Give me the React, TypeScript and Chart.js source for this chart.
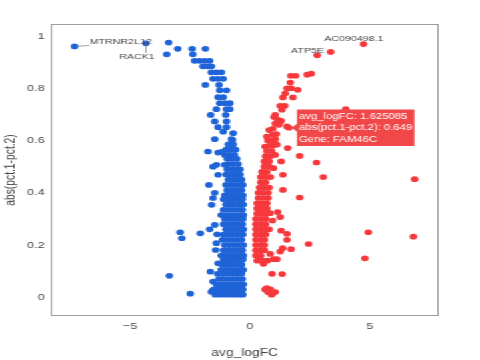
import React, { useEffect, useRef } from 'react';
import { Chart, registerables } from 'chart.js';

Chart.register(...registerables);

const FONT = "'Liberation Sans', Arial, Helvetica, sans-serif";
const BLUE = '#1E63D7';
const RED = '#F6383C';
const TIP_BG = '#F24748';
const TEXT = '#444444';

// axis ranges and ticks
const X_MIN = -8.306;
const X_MAX = 7.861;
const Y_MIN = -0.0716;
const Y_MAX = 1.046;
const xTicks = [-5, 0, 5];
const yTicks = [0, 0.2, 0.4, 0.6, 0.8, 1];
const xTitle = 'avg_logFC';
const yTitle = 'abs(pct.1-pct.2)';

// labelled genes: [avg_logFC, abs(pct.1-pct.2)], label anchor [x, y]
const labelGenes = ['MTRNR2L12', 'RACK1', 'ATP5E', 'AC090498.1'];
const labelPoints: [number, number][] = [[-7.31, 0.96], [-4.34, 0.972], [2.8, 0.926], [4.73, 0.969]];
const labelAnchors: [number, number][] = [[-5.39, 0.979], [-4.71, 0.92], [2.4, 0.944], [4.33, 0.99]];
const labelIsUp = [false, false, true, true];

// hovered gene
const hoverGene = 'FAM46C';
const hoverLogFC = 1.625085;
const hoverPct = 0.649;

// down-regulated (blue) genes
const blueArc: [number, number][] = [
  [-3.39, 0.975], [-3.01, 0.951], [-3.47, 0.93], [-2.41, 0.951], [-1.86, 0.951], [-2.38, 0.93],
  [-2.31, 0.905], [-2.1, 0.905], [-1.89, 0.905], [-1.68, 0.905], [-1.96, 0.884], [-1.76, 0.884],
  [-1.61, 0.884], [-1.61, 0.861], [-1.4, 0.861], [-1.19, 0.861], [-1.54, 0.836], [-1.33, 0.836],
  [-1.12, 0.836], [-1.86, 0.813], [-1.29, 0.813], [-1.26, 0.792], [-0.98, 0.792], [-1.33, 0.766],
  [-1.12, 0.766], [-1.26, 0.743], [-1.05, 0.743], [-0.84, 0.743], [-1.4, 0.72], [-0.98, 0.72],
  [-0.84, 0.72], [-1.64, 0.698], [-1.01, 0.698], [-1.47, 0.673], [-0.98, 0.673], [-1.33, 0.651],
  [-0.98, 0.651], [-0.7, 0.628], [-1.12, 0.634], [-0.77, 0.605], [-1.47, 0.605], [-1.75, 0.558],
  [-1.33, 0.554], [-1.18, 0.557], [-1.4, 0.507], [-1.06, 0.507], [-0.73, 0.603],
];
const blueScatter: [number, number][] = [
  [-2.91, 0.249], [-2.84, 0.226], [-2.07, 0.245], [-1.68, 0.26], [-1.37, 0.241], [-3.36, 0.082],
  [-2.49, 0.014], [-1.71, 0.43], [-1.6, 0.354], [-1.47, 0.277], [-1.4, 0.207], [-1.43, 0.181],
  [-1.65, 0.098], [-1.54, 0.028], [-1.54, 0.5], [-1.47, 0.4], [-1.33, 0.469], [-1.54, 0.38],
  [-1.33, 0.13], [-1.54, 0.06], [-1.61, 0.021],
];
const blueCoreRows: [number, number[]][] = [
  [0.01, [-1.45, -1.25, -1.05, -0.85, -0.65, -0.45, -0.3]],
  [0.03, [-1.5, -1.3, -1.1, -0.9, -0.7, -0.5, -0.3]],
  [0.05, [-1.4, -1.2, -1.0, -0.8, -0.6, -0.4, -0.28]],
  [0.07, [-1.3, -1.1, -0.9, -0.7, -0.5, -0.32]],
  [0.09, [-1.35, -1.15, -0.95, -0.75, -0.55, -0.35]],
  [0.105, [-1.2, -1.0, -0.8, -0.6, -0.4, -0.28]],
  [0.125, [-1.15, -0.95, -0.75, -0.55, -0.35]],
  [0.145, [-1.1, -0.9, -0.7, -0.5, -0.3]],
  [0.16, [-1.2, -1.0, -0.8, -0.6, -0.4, -0.28]],
  [0.18, [-1.1, -0.9, -0.7, -0.5, -0.32]],
  [0.2, [-1.05, -0.85, -0.65, -0.45, -0.28]],
  [0.22, [-1.15, -0.95, -0.75, -0.55, -0.35]],
  [0.24, [-1.1, -0.9, -0.7, -0.5, -0.3]],
  [0.26, [-1.0, -0.8, -0.6, -0.4, -0.28]],
  [0.28, [-1.1, -0.9, -0.7, -0.5, -0.32]],
  [0.3, [-1.05, -0.85, -0.65, -0.45, -0.3]],
  [0.315, [-1.2, -1.0, -0.8, -0.6, -0.4, -0.28]],
  [0.335, [-1.1, -0.9, -0.7, -0.5, -0.32]],
  [0.355, [-1.0, -0.8, -0.6, -0.4, -0.28]],
  [0.375, [-1.1, -0.9, -0.7, -0.5, -0.32]],
  [0.39, [-1.05, -0.85, -0.65, -0.45, -0.3]],
  [0.41, [-0.95, -0.75, -0.55, -0.35]],
  [0.43, [-1.0, -0.8, -0.6, -0.4, -0.3]],
  [0.45, [-0.9, -0.7, -0.5, -0.35]],
  [0.47, [-1.0, -0.8, -0.6, -0.42]],
  [0.49, [-0.95, -0.75, -0.55, -0.42]],
  [0.51, [-0.9, -0.7, -0.5]],
  [0.53, [-0.95, -0.75, -0.55]],
  [0.545, [-1.05, -0.85, -0.65]],
  [0.565, [-1.0, -0.8, -0.6]],
  [0.585, [-0.9, -0.7]],
];

// up-regulated (red) genes
const redArc: [number, number][] = [
  [3.36, 0.939], [1.7, 0.848], [1.9, 0.848], [2.38, 0.852], [2.55, 0.856], [1.68, 0.822],
  [1.54, 0.8], [1.72, 0.8], [1.99, 0.794], [1.47, 0.781], [1.37, 0.765], [1.79, 0.765],
  [1.26, 0.733], [1.45, 0.733], [1.33, 0.718], [1.05, 0.698], [1.0, 0.69], [1.15, 0.68],
  [1.3, 0.675], [1.05, 0.665], [1.2, 0.66], [1.54, 0.654], [0.95, 0.622], [1.1, 0.625],
  [0.7, 0.615], [1.12, 0.584], [1.57, 0.571], [0.63, 0.577], [2.07, 0.541], [1.3, 0.52],
  [2.77, 0.516], [0.98, 0.494], [1.37, 0.469], [3.05, 0.46], [6.86, 0.452], [0.56, 0.469],
  [3.99, 0.72], [0.8, 0.64], [0.95, 0.645], [0.75, 0.6], [0.9, 0.6], [1.05, 0.605], [1.05, 0.545],
];
const redScatter: [number, number][] = [
  [1.37, 0.411], [2.07, 0.382], [1.15, 0.326], [1.26, 0.307], [0.94, 0.294], [0.84, 0.322],
  [1.3, 0.255], [1.54, 0.243], [4.93, 0.249], [6.81, 0.232], [1.54, 0.22], [2.44, 0.204],
  [1.36, 0.188], [1.71, 0.184], [1.26, 0.175], [0.84, 0.166], [4.79, 0.149], [0.98, 0.146],
  [1.12, 0.146], [0.56, 0.128], [0.92, 0.09], [1.34, 0.089], [0.72, 0.14], [0.63, 0.03],
  [0.75, 0.02], [0.9, 0.01], [1.05, 0.02], [0.85, 0.03], [0.95, 0.015], [0.7, 0.035],
];
const redCoreRows: [number, number[]][] = [
  [0.6, [0.85, 1.0]], [0.58, [0.8, 0.95]], [0.56, [0.7, 0.9]], [0.54, [0.65, 0.85]],
  [0.52, [0.6, 0.8]], [0.5, [0.6, 0.8]], [0.48, [0.5, 0.7]], [0.46, [0.45, 0.65, 0.85]],
  [0.44, [0.45, 0.65]], [0.42, [0.4, 0.6, 0.8]], [0.4, [0.35, 0.55, 0.75]],
  [0.38, [0.35, 0.55, 0.75]], [0.36, [0.3, 0.5, 0.7]], [0.34, [0.3, 0.5, 0.7]],
  [0.32, [0.3, 0.5, 0.7]], [0.3, [0.25, 0.45, 0.65]], [0.28, [0.25, 0.45, 0.65]],
  [0.26, [0.25, 0.45, 0.65, 0.8]], [0.24, [0.25, 0.45, 0.65]], [0.22, [0.25, 0.45, 0.6]],
  [0.2, [0.25, 0.45, 0.6]], [0.18, [0.25, 0.45, 0.6]], [0.16, [0.25, 0.45]], [0.14, [0.3, 0.5]],
];

type P = { x: number; y: number; gene?: string };
const pairs = (arr: [number, number][]): P[] => arr.map(([x, y]) => ({ x, y }));
const rows = (arr: [number, number[]][]): P[] => arr.flatMap(([y, xs]) => xs.map((x) => ({ x, y })));

const bluePoints: P[] = [
  ...rows(blueCoreRows),
  ...pairs(blueArc),
  ...pairs(blueScatter),
  ...labelGenes.map((g, i) => ({ x: labelPoints[i][0], y: labelPoints[i][1], gene: g })).filter((_, i) => !labelIsUp[i]),
];
const redPoints: P[] = [
  ...rows(redCoreRows),
  ...pairs(redArc),
  ...pairs(redScatter),
  ...labelGenes.map((g, i) => ({ x: labelPoints[i][0], y: labelPoints[i][1], gene: g })).filter((_, i) => labelIsUp[i]),
  { x: hoverLogFC, y: hoverPct, gene: hoverGene },
];

const overlay = {
  id: 'overlay',
  beforeDatasetsDraw(chart: any) {
    const { ctx, chartArea: a } = chart;
    ctx.save();
    ctx.strokeStyle = '#9c9c9c';
    ctx.lineWidth = 1;
    ctx.strokeRect(a.left + 0.5, a.top + 0.5, a.right - a.left - 1, a.bottom - a.top - 1);
    ctx.restore();
  },
  afterDatasetsDraw(chart: any) {
    const { ctx, chartArea: a } = chart;
    const xs = chart.scales.x;
    const ys = chart.scales.y;
    ctx.save();
    ctx.font = `8px ${FONT}`;
    ctx.textAlign = 'center';
    ctx.textBaseline = 'middle';
    labelGenes.forEach((g, i) => {
      const px = xs.getPixelForValue(labelPoints[i][0]);
      const py = ys.getPixelForValue(labelPoints[i][1]);
      const tx = xs.getPixelForValue(labelAnchors[i][0]);
      const ty = ys.getPixelForValue(labelAnchors[i][1]);
      const w = ctx.measureText(g).width;
      const h = 8;
      const nx = Math.max(tx - w / 2, Math.min(px, tx + w / 2));
      const ny = Math.max(ty - h / 2, Math.min(py, ty + h / 2));
      if (Math.hypot(nx - px, ny - py) > 4) {
        ctx.strokeStyle = '#666666';
        ctx.lineWidth = 0.6;
        ctx.beginPath();
        ctx.moveTo(px, py);
        ctx.lineTo(nx, ny);
        ctx.stroke();
      }
      ctx.fillStyle = TEXT;
      ctx.fillText(g, tx, ty);
    });
    ctx.fillStyle = TEXT;
    ctx.font = `10.3px ${FONT}`;
    ctx.textAlign = 'center';
    ctx.textBaseline = 'alphabetic';
    ctx.fillText(xTitle, (a.left + a.right) / 2, 355.5);
    ctx.translate(10.8, (a.top + a.bottom) / 2);
    ctx.rotate(-Math.PI / 2);
    ctx.fillText(yTitle, 0, 0);
    ctx.restore();
  },
};

export default function App() {
  const ref = useRef<HTMLCanvasElement>(null);
  useEffect(() => {
    const canvas = ref.current;
    if (!canvas) return;
    const chart = new Chart(canvas, {
      type: 'scatter',
      data: {
        datasets: [
          { label: 'down', data: bluePoints, backgroundColor: BLUE, borderWidth: 0, pointRadius: 2.85, pointHoverRadius: 2.85 },
          { label: 'up', data: redPoints, backgroundColor: RED, borderWidth: 0, pointRadius: 2.85, pointHoverRadius: 2.85 },
        ],
      },
      options: {
        animation: false,
        responsive: false,
        devicePixelRatio: 1,
        events: [],
        layout: { padding: { left: 0, top: 24, right: 31, bottom: 0 } },
        scales: {
          x: {
            type: 'linear',
            min: X_MIN,
            max: X_MAX,
            afterFit: (s: any) => { s.height = 44; },
            afterBuildTicks: (s: any) => { s.ticks = xTicks.map((v) => ({ value: v })); },
            grid: { display: false, drawTicks: false },
            border: { display: false },
            ticks: {
              padding: 4.5,
              color: TEXT,
              font: { family: FONT, size: 9.5 },
              callback: (v: any) => (Number(v) < 0 ? '\u2212' + Math.abs(Number(v)) : String(v)),
            },
          },
          y: {
            type: 'linear',
            min: Y_MIN,
            max: Y_MAX,
            afterFit: (s: any) => { s.width = 38; },
            afterBuildTicks: (s: any) => { s.ticks = yTicks.map((v) => ({ value: v })); },
            grid: { display: false, drawTicks: false },
            border: { display: false },
            ticks: {
              padding: 4.5,
              color: TEXT,
              font: { family: FONT, size: 9.5 },
              callback: (v: any) => String(v),
            },
          },
        },
        plugins: {
          legend: { display: false },
          tooltip: {
            enabled: true,
            backgroundColor: TIP_BG,
            bodyColor: '#ffffff',
            displayColors: false,
            bodyFont: { family: FONT, size: 8.5, lineHeight: 1.35 },
            bodySpacing: 0,
            padding: { top: 1, bottom: 1, left: 1.5, right: 1.5 },
            caretSize: 4,
            caretPadding: 2,
            cornerRadius: 0,
            xAlign: 'left',
            yAlign: 'center',
            callbacks: {
              title: () => [],
              label: (c: any) => [
                `avg_logFC: ${c.raw.x}`,
                `abs(pct.1-pct.2): ${c.raw.y}`,
                `Gene: ${c.raw.gene}`,
              ],
            },
          },
        },
      } as any,
      plugins: [overlay],
    });
    const idx = redPoints.findIndex((p) => p.gene === hoverGene);
    chart.tooltip?.setActiveElements([{ datasetIndex: 1, index: idx }], { x: 0, y: 0 });
    chart.update();
    return () => chart.destroy();
  }, []);
  return (
    <div
      style={{
        position: 'absolute',
        left: 0,
        top: 0,
        width: 360,
        height: 360,
        background: '#ffffff',
        transform: 'scaleX(1.333333)',
        transformOrigin: '0 0',
      }}
    >
      <canvas ref={ref} width={360} height={360} />
    </div>
  );
}
